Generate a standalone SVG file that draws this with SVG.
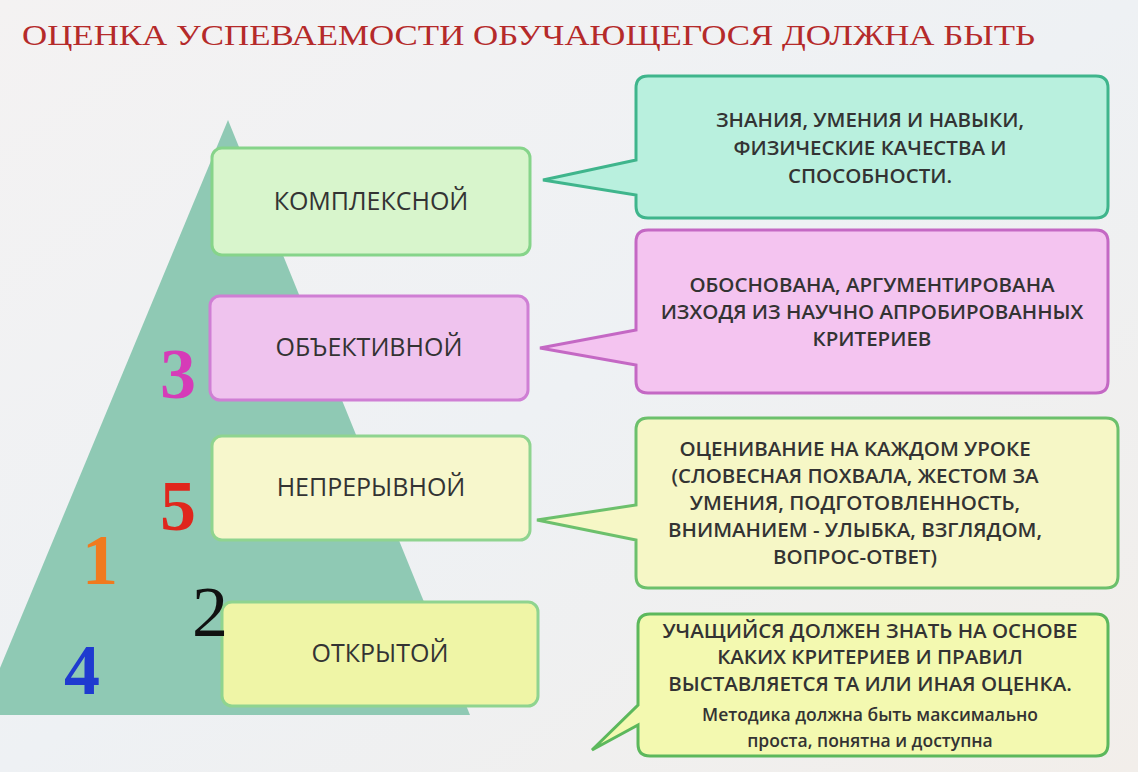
<svg xmlns="http://www.w3.org/2000/svg" width="1138" height="772" viewBox="0 0 1138 772">
<defs>
<linearGradient id="bg" x1="0" y1="0" x2="1" y2="1"><stop offset="0" stop-color="#f4f2f2"/><stop offset="0.5" stop-color="#eef1f4"/><stop offset="1" stop-color="#f2eeea"/></linearGradient>
<style>
.t{font-family:"Open Sans","DejaVu Sans",sans-serif;font-weight:600;fill:#333;text-anchor:middle}
.lbl{font-size:25px;font-weight:500}
.c{font-size:20.5px}
.n{font-family:"Liberation Serif",serif;font-weight:bold;font-size:72px}
.box{stroke-width:3}
</style>
</defs>
<rect width="1138" height="772" fill="url(#bg)"/>
<text x="22" y="45" font-family="Liberation Serif,serif" font-size="30" fill="#b52a2a" textLength="1013" lengthAdjust="spacingAndGlyphs">ОЦЕНКА УСПЕВАЕМОСТИ ОБУЧАЮЩЕГОСЯ ДОЛЖНА БЫТЬ</text>
<polygon points="228,120 470,715 0,715 0,668" fill="#8fc9b4"/>
<g id="connectors"></g>
<g id="n1"><rect class="box" x="212" y="148" width="318" height="107" rx="10" fill="#d8f5cc" stroke="#86d48a"/><text class="t lbl" x="371" y="210">КОМПЛЕКСНОЙ</text></g>
<g id="n2"><rect class="box" x="210" y="296" width="318" height="104" rx="10" fill="#efc3ee" stroke="#cf7fd4"/><text class="t lbl" x="369" y="356">ОБЪЕКТИВНОЙ</text></g>
<g id="n3"><rect class="box" x="212" y="436" width="318" height="104" rx="10" fill="#f7f7cc" stroke="#8fd48f"/><text class="t lbl" x="371" y="496">НЕПРЕРЫВНОЙ</text></g>
<g id="n4"><rect class="box" x="222" y="602" width="316" height="104" rx="10" fill="#eff5a6" stroke="#8fd48f"/><text class="t lbl" x="380" y="662">ОТКРЫТОЙ</text></g>
<g id="c1"><path class="box" d="M648,76 H1096 Q1108,76 1108,88 V206 Q1108,218 1096,218 H648 Q636,218 636,206 V195 L543,180 L636,160 V88 Q636,76 648,76 Z" fill="#b9f0de" stroke="#3fb58c"/>
<text class="t c" x="870" y="127">ЗНАНИЯ, УМЕНИЯ И НАВЫКИ,</text><text class="t c" x="870" y="155">ФИЗИЧЕСКИЕ КАЧЕСТВА И</text><text class="t c" x="870" y="183">СПОСОБНОСТИ.</text></g>
<g id="c2"><path class="box" d="M648,230 H1096 Q1108,230 1108,242 V381 Q1108,393 1096,393 H648 Q636,393 636,381 V365 L540,348 L636,330 V242 Q636,230 648,230 Z" fill="#f4c4f0" stroke="#c468c4"/>
<text class="t c" x="872" y="292">ОБОСНОВАНА, АРГУМЕНТИРОВАНА</text><text class="t c" x="872" y="319">ИЗХОДЯ ИЗ НАУЧНО АПРОБИРОВАННЫХ</text><text class="t c" x="872" y="346">КРИТЕРИЕВ</text></g>
<g id="c3"><path class="box" d="M648,418 H1106 Q1118,418 1118,430 V576 Q1118,588 1106,588 H648 Q636,588 636,576 V540 L537,520 L636,505 V430 Q636,418 648,418 Z" fill="#f6f7c6" stroke="#6cc06c"/>
<text class="t c" x="855" y="456">ОЦЕНИВАНИЕ НА КАЖДОМ УРОКЕ</text><text class="t c" x="855" y="483">(СЛОВЕСНАЯ ПОХВАЛА, ЖЕСТОМ ЗА</text><text class="t c" x="855" y="510">УМЕНИЯ, ПОДГОТОВЛЕННОСТЬ,</text><text class="t c" x="855" y="537">ВНИМАНИЕМ - УЛЫБКА, ВЗГЛЯДОМ,</text><text class="t c" x="855" y="564">ВОПРОС-ОТВЕТ)</text></g>
<g id="c4"><path class="box" d="M650,614 H1096 Q1108,614 1108,626 V744 Q1108,756 1096,756 H650 Q638,756 638,744 V725 L592,750 L638,705 V626 Q638,614 650,614 Z" fill="#f3f9b0" stroke="#5cb85c"/>
<text class="t c" x="870" y="638">УЧАЩИЙСЯ ДОЛЖЕН ЗНАТЬ НА ОСНОВЕ</text><text class="t c" x="870" y="664">КАКИХ КРИТЕРИЕВ И ПРАВИЛ</text><text class="t c" x="870" y="691">ВЫСТАВЛЯЕТСЯ ТА ИЛИ ИНАЯ ОЦЕНКА.</text><text class="t" x="870" y="721" font-size="17.5">Методика должна быть максимально</text><text class="t" x="870" y="747" font-size="17.5">проста, понятна и доступна</text></g>
<text class="n" x="160" y="398" fill="#d63bb8">3</text>
<text class="n" x="160" y="530" fill="#e0261c">5</text>
<text class="n" x="82" y="584" fill="#f07a1e">1</text>
<text x="192" y="636" font-family="Liberation Serif,serif" font-size="72" fill="#111">2</text>
<text class="n" x="64" y="694" fill="#1f3ad0">4</text>
</svg>
